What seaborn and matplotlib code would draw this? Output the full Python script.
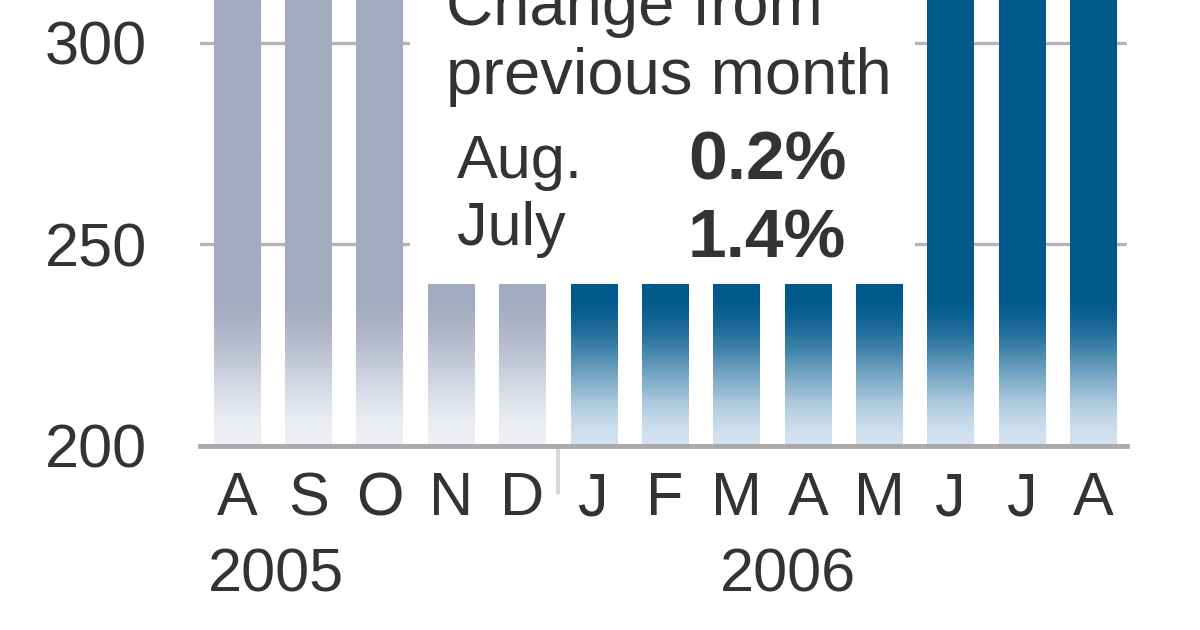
import numpy as np
import pandas as pd
import matplotlib.pyplot as plt
import matplotlib.transforms as mtransforms
import seaborn as sns
from matplotlib.colors import to_rgb
from matplotlib.patches import Rectangle

# Data (tall bars run past the top of the crop)
months = ["A", "S", "O", "N", "D", "J", "F", "M", "A", "M", "J", "J", "A"]
years = ["2005"] * 5 + ["2006"] * 8
index_values = [330, 330, 330, 240, 240, 240, 240, 240, 240, 240, 330, 330, 330]
change_labels = ["Aug.", "July"]
change_values = ["0.2%", "1.4%"]

GREY, GREY_LIGHT = "#a3abc0", "#eef0f5"
BLUE, BLUE_LIGHT = "#00598b", "#d3e2f0"
TEXT = "#333333"

df = pd.DataFrame({"pos": range(len(months)), "month": months,
                   "year": years, "value": index_values})

sns.set_style("white")
plt.rcParams["font.family"] = ["Liberation Sans", "DejaVu Sans"]

fig = plt.figure(figsize=(12, 6.3), dpi=100)
ax = fig.add_axes([200 / 1200, 184 / 630, 927 / 1200, 446 / 630])

sns.barplot(data=df, x="pos", y="value", hue="year",
            palette={"2005": GREY, "2006": BLUE}, width=0.65, dodge=False,
            saturation=1, legend=False, ax=ax)

ymin, ymax = 200, 310.6
fade_top = 238
ax.set_ylim(ymin, ymax)

# replace flat bars by a vertical fade to white at the bottom
for bar in list(ax.patches):
    x0, w, top = bar.get_x(), bar.get_width(), bar.get_height()
    idx = int(round(x0 + w / 2))
    dark, light = (to_rgb(GREY), to_rgb(GREY_LIGHT)) if df.year[idx] == "2005" \
        else (to_rgb(BLUE), to_rgb(BLUE_LIGHT))
    ys = np.linspace(ymin, top, 300)
    t = np.clip((ys - ymin) / (fade_top - ymin), 0, 1)
    t = t * t * (3 - 2 * t)
    rgb = np.array(light) + (np.array(dark) - np.array(light)) * t[:, None]
    ax.imshow(rgb[:, None, :], extent=[x0, x0 + w, ymin, top], origin="lower",
              aspect="auto", interpolation="bilinear", zorder=2)
    bar.set_visible(False)

ax.set_xlim(-0.515, 12.47)
ax.set_ylim(ymin, ymax)

ax.grid(axis="y", color="#b5b5b5", lw=2.4)
ax.grid(axis="x", visible=False)
ax.set_axisbelow(True)
# white panel behind the annotation hides the gridlines there
ax.add_patch(Rectangle((2.43, 245), 7.07, 100, fc="white", ec="none", zorder=1))

sns.despine(ax=ax, left=True)
ax.spines["bottom"].set_color("#aaaaaa")
ax.spines["bottom"].set_linewidth(3.5)
ax.spines["bottom"].set_zorder(3)

ax.set_yticks([200, 250, 300])
ax.set_xticks(range(len(months)))
ax.set_xticklabels(months)
ax.tick_params(axis="both", length=0, labelsize=44, colors=TEXT)
ax.tick_params(axis="y", pad=38)
ax.tick_params(axis="x", pad=18)
ax.set_xlabel("")
ax.set_ylabel("")

# year separator between D and J
trans = mtransforms.blended_transform_factory(ax.transData, ax.transAxes)
ax.plot([4.5, 4.5], [0, -0.105], transform=trans, color="#d8d8d8", lw=3,
        clip_on=False, zorder=3)

year_names = list(dict.fromkeys(years))
fig.text(276 / 1200, 1 - 592 / 630, year_names[0], ha="center", va="baseline",
         fontsize=44, color=TEXT)
fig.text(788 / 1200, 1 - 592 / 630, year_names[1], ha="center", va="baseline",
         fontsize=44, color=TEXT)

# annotation (first line is cut by the top edge, as in the source crop)
fig.text(446 / 1200, 1 - 25 / 630, "Change from", fontsize=47, color=TEXT,
         va="baseline")
fig.text(446 / 1200, 1 - 94 / 630, "previous month", fontsize=47, color=TEXT,
         va="baseline")
fig.text(457 / 1200, 1 - 178 / 630, change_labels[0], fontsize=44, color=TEXT,
         va="baseline")
fig.text(457 / 1200, 1 - 245 / 630, change_labels[1], fontsize=44, color=TEXT,
         va="baseline")
fig.text(688 / 1200, 1 - 179 / 630, change_values[0], fontsize=50, color=TEXT,
         weight="bold", va="baseline")
fig.text(688 / 1200, 1 - 257 / 630, change_values[1], fontsize=50, color=TEXT,
         weight="bold", va="baseline")

fig.savefig("out.png", dpi=100)
